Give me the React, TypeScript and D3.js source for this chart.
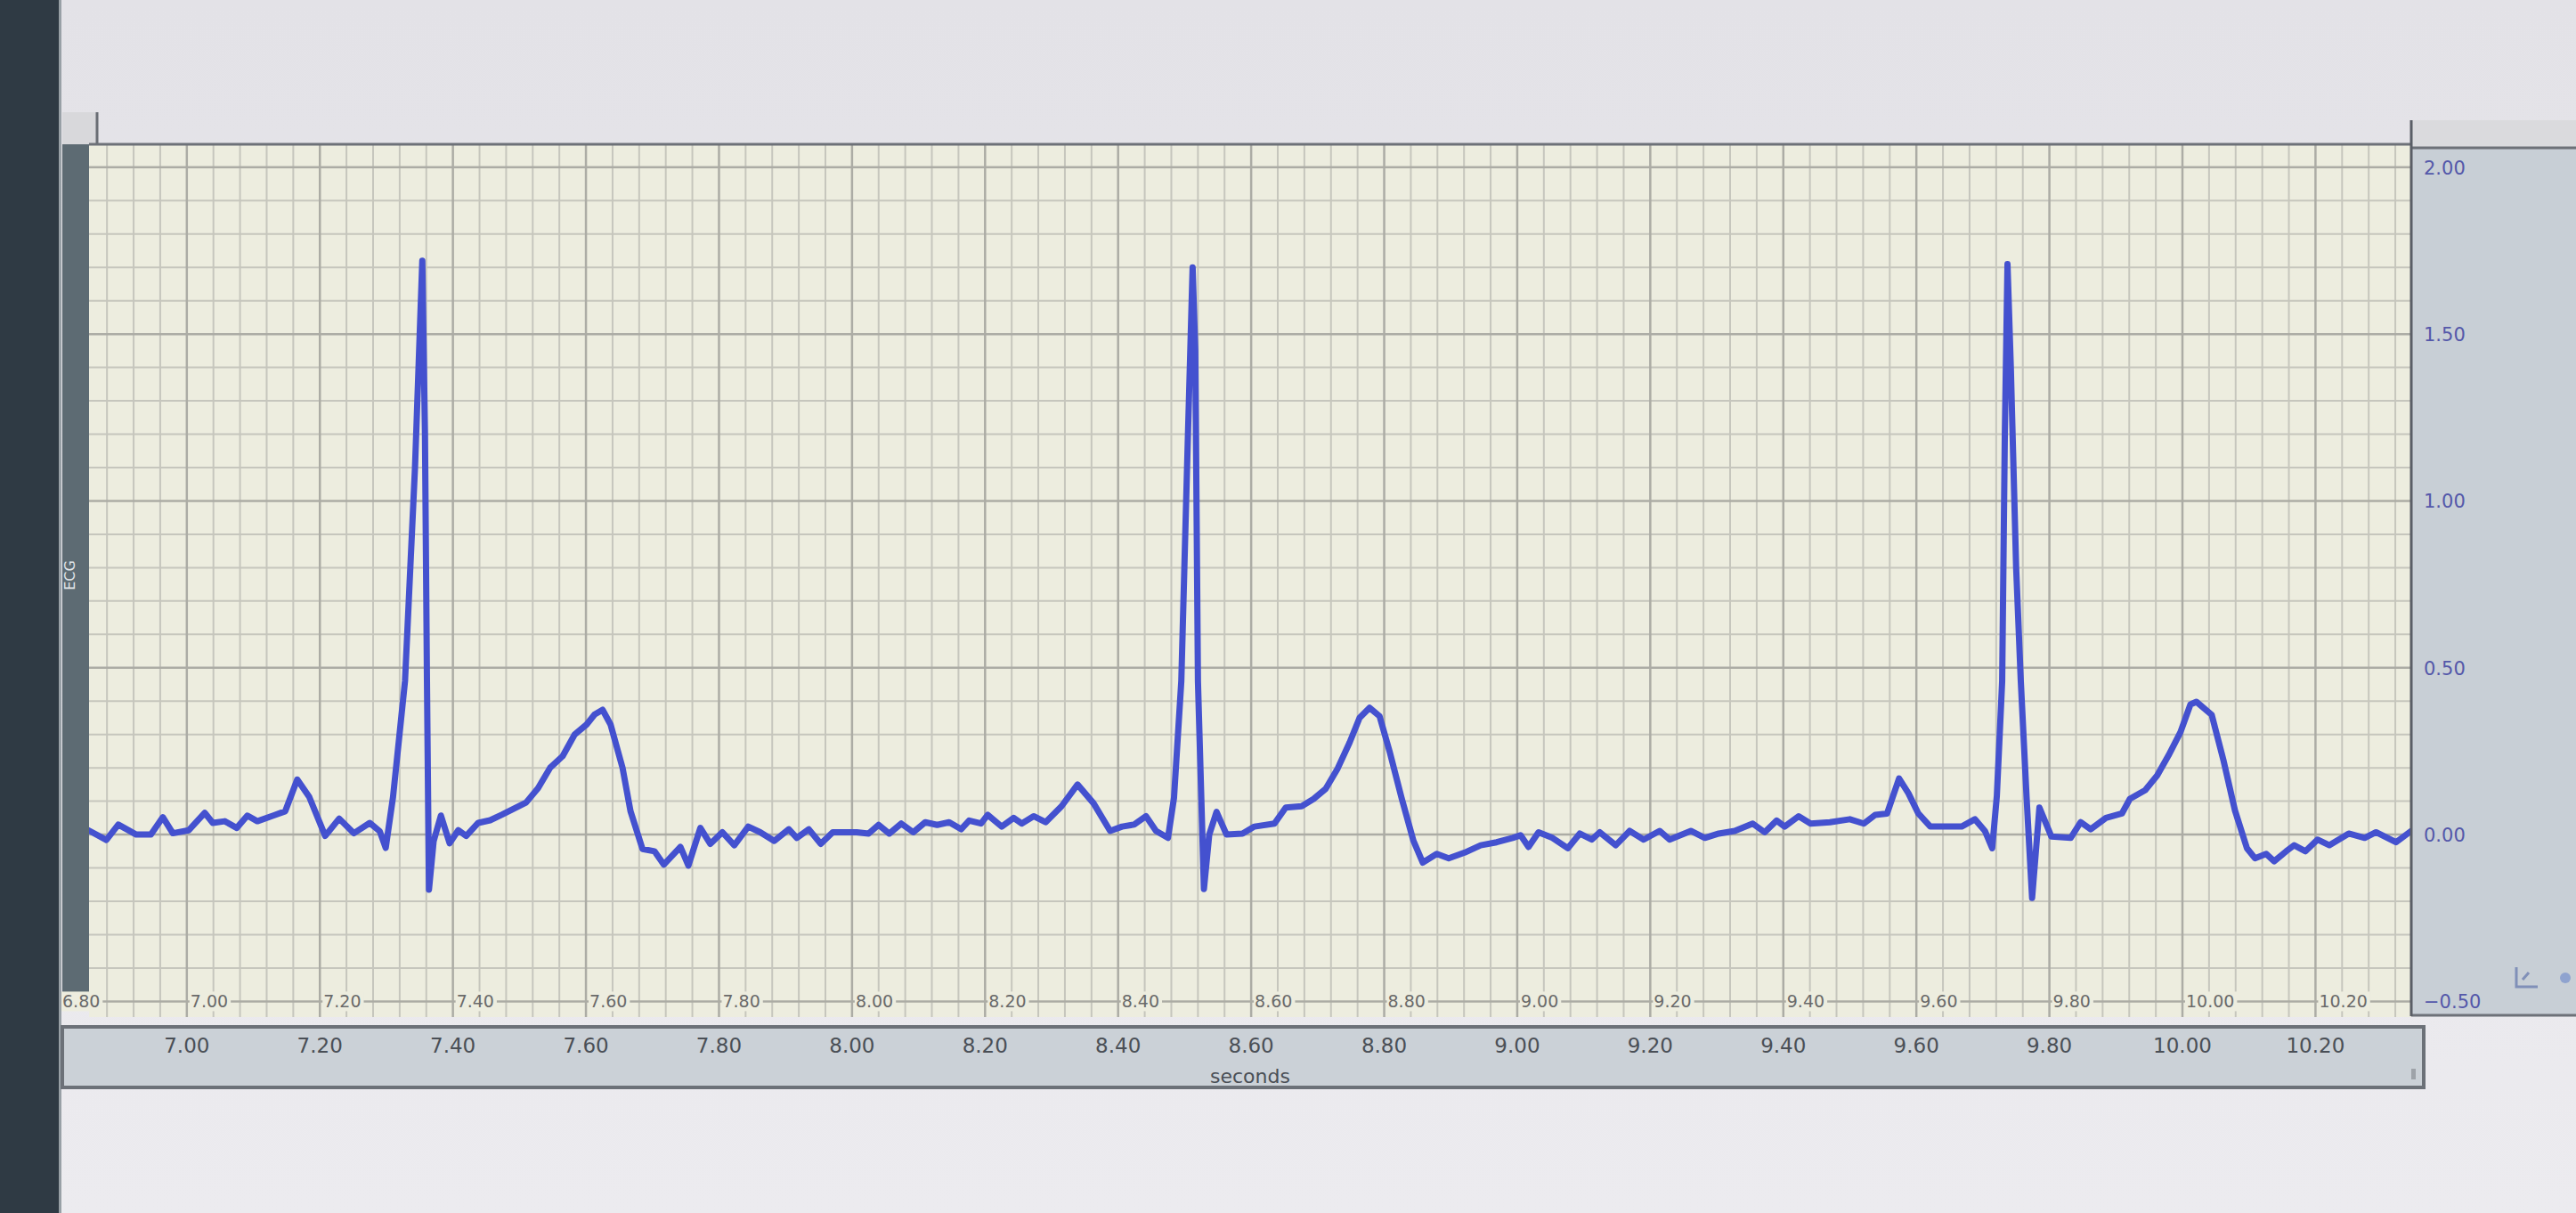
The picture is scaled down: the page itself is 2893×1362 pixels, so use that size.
import React from "react";
import * as d3 from "d3";

// ECG trace (seconds, mV)
const ecgTime = [
  6.816, 6.852, 6.879, 6.897, 6.924, 6.946, 6.964, 6.979, 7.003, 7.027, 7.039, 7.057, 7.075, 7.091, 7.106, 7.13, 7.148,
  7.166, 7.184, 7.208, 7.229, 7.251, 7.275, 7.29, 7.299, 7.31, 7.328, 7.343, 7.354, 7.358, 7.361, 7.364, 7.371, 7.382,
  7.395, 7.408, 7.42, 7.438, 7.456, 7.474, 7.492, 7.51, 7.528, 7.546, 7.565, 7.583, 7.601, 7.613, 7.625, 7.637, 7.655,
  7.667, 7.685, 7.703, 7.717, 7.742, 7.754, 7.772, 7.787, 7.805, 7.823, 7.844, 7.862, 7.883, 7.905, 7.917, 7.935, 7.953,
  7.971, 8.007, 8.025, 8.04, 8.056, 8.074, 8.092, 8.11, 8.128, 8.146, 8.164, 8.176, 8.194, 8.204, 8.225, 8.243, 8.255,
  8.273, 8.291, 8.315, 8.339, 8.363, 8.388, 8.406, 8.424, 8.442, 8.457, 8.475, 8.484, 8.495, 8.505, 8.512, 8.516, 8.52,
  8.529, 8.537, 8.548, 8.563, 8.587, 8.605, 8.635, 8.652, 8.676, 8.694, 8.712, 8.73, 8.748, 8.763, 8.778, 8.793, 8.808,
  8.826, 8.844, 8.858, 8.879, 8.897, 8.921, 8.945, 8.969, 8.993, 9.005, 9.017, 9.032, 9.053, 9.076, 9.094, 9.112, 9.124,
  9.148, 9.169, 9.19, 9.214, 9.229, 9.261, 9.282, 9.303, 9.327, 9.354, 9.372, 9.39, 9.402, 9.423, 9.441, 9.47, 9.5,
  9.521, 9.538, 9.556, 9.574, 9.588, 9.603, 9.621, 9.644, 9.668, 9.688, 9.703, 9.714, 9.721, 9.729, 9.733, 9.737, 9.742,
  9.75, 9.757, 9.766, 9.774, 9.785, 9.803, 9.832, 9.847, 9.862, 9.885, 9.909, 9.921, 9.944, 9.962, 9.979, 9.997, 10.012,
  10.021, 10.044, 10.062, 10.079, 10.097, 10.109, 10.126, 10.138, 10.156, 10.168, 10.185, 10.203, 10.221, 10.25, 10.274,
  10.291, 10.321, 10.344, 10.368,
];
const ecgMv = [
  0.01, 0.013, -0.016, 0.03, 0.0, 0.0, 0.052, 0.004, 0.013, 0.065, 0.035, 0.04, 0.02, 0.057, 0.04, 0.057, 0.07,
  0.165, 0.113, -0.004, 0.048, 0.004, 0.035, 0.01, -0.04, 0.113, 0.46, 1.1, 1.72, 1.2, 0.46, -0.165, -0.02, 0.057,
  -0.026, 0.013, -0.004, 0.035, 0.043, 0.06, 0.078, 0.096, 0.139, 0.2, 0.235, 0.3, 0.33, 0.36, 0.374, 0.33, 0.2,
  0.07, -0.043, -0.05, -0.09, -0.037, -0.093, 0.02, -0.028, 0.007, -0.032, 0.024, 0.007, -0.019, 0.016, -0.01, 0.016, -0.028,
  0.007, 0.007, 0.003, 0.029, 0.003, 0.033, 0.007, 0.037, 0.029, 0.037, 0.016, 0.042, 0.033, 0.059, 0.024, 0.05, 0.033,
  0.055, 0.037, 0.085, 0.15, 0.094, 0.011, 0.024, 0.03, 0.055, 0.011, -0.01, 0.11, 0.46, 1.2, 1.7, 1.45, 0.46,
  -0.163, 0.0, 0.068, 0.0, 0.003, 0.024, 0.033, 0.081, 0.085, 0.107, 0.137, 0.198, 0.276, 0.35, 0.38, 0.355, 0.25,
  0.111, -0.019, -0.084, -0.058, -0.071, -0.054, -0.032, -0.023, -0.01, -0.002, -0.037, 0.007, -0.01, -0.041, 0.003, -0.015, 0.007,
  -0.032, 0.011, -0.015, 0.011, -0.015, 0.011, -0.01, 0.003, 0.011, 0.033, 0.007, 0.042, 0.024, 0.055, 0.033, 0.037, 0.046,
  0.033, 0.059, 0.063, 0.168, 0.124, 0.063, 0.024, 0.024, 0.024, 0.046, 0.011, -0.041, 0.116, 0.46, 1.2, 1.71, 1.4,
  0.8, 0.46, 0.1, -0.19, 0.081, -0.006, -0.01, 0.037, 0.016, 0.05, 0.063, 0.107, 0.133, 0.177, 0.237, 0.307, 0.39,
  0.398, 0.359, 0.22, 0.072, -0.041, -0.071, -0.058, -0.08, -0.05, -0.032, -0.05, -0.015, -0.032, 0.003, -0.01,
  0.007, -0.023, 0.011, 0.003,
];

// axes
const xTicks = [7.0, 7.2, 7.4, 7.6, 7.8, 8.0, 8.2, 8.4, 8.6, 8.8, 9.0, 9.2, 9.4, 9.6, 9.8, 10.0, 10.2];
const stripTicks = [6.8, 7.0, 7.2, 7.4, 7.6, 7.8, 8.0, 8.2, 8.4, 8.6, 8.8, 9.0, 9.2, 9.4, 9.6, 9.8, 10.0, 10.2];
const yTicks = [2.0, 1.5, 1.0, 0.5, 0.0, -0.5];
const xDomain = [6.853, 10.344];
const yDomain = [-0.547, 2.069];
const channelLabel = "ECG";
const xAxisTitle = "seconds";

const W = 2893;
const H = 1362;
const P = { left: 100, right: 2708, top: 162, bottom: 1142 };
const FONT = "'DejaVu Sans', Verdana, sans-serif";

export default function App() {
  const x = d3.scaleLinear().domain(xDomain).range([P.left, P.right]);
  const y = d3.scaleLinear().domain(yDomain).range([P.bottom, P.top]);
  const fmt = d3.format(".2f");

  const pts: [number, number][] = ecgTime.map((t, i) => [t, ecgMv[i]]);
  const line = d3
    .line<[number, number]>()
    .x((d) => x(d[0]))
    .y((d) => y(d[1]));

  const vGrid = d3.range(172, 259).map((k) => ({ v: k * 0.04, major: k % 5 === 0 }));
  const hGrid = d3.range(-5, 21).map((k) => ({ v: k / 10, major: k % 5 === 0 }));

  const stripSize = 19;
  const labelW = (s: string) => (s.replace(".", "").length * 0.636 + 0.318) * stripSize;

  return (
    <div style={{ position: "absolute", left: 0, top: 0, width: W, height: H, overflow: "hidden" }}>
      <svg width={W} height={H} style={{ display: "block" }} fontFamily={FONT}>
        <defs>
          <linearGradient id="pagebg" x1="0" y1="0" x2="0" y2="1">
            <stop offset="0" stopColor="#e3e2e7" />
            <stop offset="1" stopColor="#ecebef" />
          </linearGradient>
          <clipPath id="plotclip">
            <rect x={P.left} y={P.top} width={P.right - P.left} height={P.bottom - P.top} />
          </clipPath>
        </defs>
        <rect x={0} y={0} width={W} height={H} fill="url(#pagebg)" />

        {/* left dark strip */}
        <rect x={0} y={0} width={66} height={H} fill="#2f3a44" />
        <rect x={66} y={0} width={3} height={H} fill="#98a0a6" />

        {/* top-left header */}
        <rect x={70} y={126} width={38} height={36} fill="#d8d8db" />
        <line x1={109} y1={126} x2={109} y2={162} stroke="#6a6e75" strokeWidth={3} />

        {/* channel panel */}
        <rect x={70} y={P.top} width={P.left - 70} height={P.bottom - P.top - 10} fill="#5d6b73" />
        <text
          transform={`translate(${84},${646}) rotate(-90)`}
          textAnchor="middle"
          fontSize={16}
          fill="#e2e6e9"
        >
          {channelLabel}
        </text>

        {/* plot background */}
        <rect x={P.left} y={P.top} width={P.right - P.left} height={P.bottom - P.top} fill="#ededdf" />

        {/* minor grid */}
        <g>
          {vGrid
            .filter((g) => !g.major)
            .map((g, i) => (
              <line key={"vm" + i} x1={x(g.v)} x2={x(g.v)} y1={P.top} y2={P.bottom} stroke="#c6c6bd" strokeWidth={2} />
            ))}
          {hGrid
            .filter((g) => !g.major)
            .map((g, i) => (
              <line key={"hm" + i} x1={P.left} x2={P.right} y1={y(g.v)} y2={y(g.v)} stroke="#c6c6bd" strokeWidth={2} />
            ))}
        </g>
        {/* major grid */}
        <g>
          {vGrid
            .filter((g) => g.major)
            .map((g, i) => (
              <line key={"vM" + i} x1={x(g.v)} x2={x(g.v)} y1={P.top} y2={P.bottom} stroke="#acaca5" strokeWidth={2.5} />
            ))}
          {hGrid
            .filter((g) => g.major)
            .map((g, i) => (
              <line key={"hM" + i} x1={P.left} x2={P.right} y1={y(g.v)} y2={y(g.v)} stroke="#acaca5" strokeWidth={2.5} />
            ))}
        </g>

        {/* in-plot time strip labels on the -0.50 line */}
        <g>
          {stripTicks.map((t) => {
            const s = fmt(t);
            const lx = Math.max(x(t) + 4, 70);
            return (
              <g key={"st" + s}>
                <rect x={lx - 1} y={y(-0.5) - 11} width={labelW(s) + 4} height={22} fill="#ededdf" />
                <text x={lx} y={y(-0.5) + 7} fontSize={stripSize} fill="#6a6a6a">
                  {s}
                </text>
              </g>
            );
          })}
        </g>

        {/* ECG trace */}
        <path
          d={line(pts) || ""}
          fill="none"
          stroke="#4451cf"
          strokeWidth={7}
          strokeLinejoin="round"
          strokeLinecap="round"
          clipPath="url(#plotclip)"
        />

        {/* plot top border */}
        <line x1={P.left} x2={P.right} y1={P.top} y2={P.top} stroke="#6d7178" strokeWidth={3} />

        {/* right axis panel */}
        <rect x={P.right} y={135} width={W - P.right} height={31} fill="#dadadd" />
        <rect x={P.right} y={166} width={W - P.right} height={974} fill="#c8cfd6" />
        <line x1={P.right} x2={W} y1={166} y2={166} stroke="#6d7178" strokeWidth={3} />
        <line x1={P.right} x2={W} y1={1140} y2={1140} stroke="#6d7178" strokeWidth={3} />
        <line x1={P.right} x2={P.right} y1={135} y2={1141} stroke="#5a5e66" strokeWidth={3} />
        {yTicks.map((v) => (
          <text key={"yt" + v} x={P.right + 14} y={y(v) + 8} fontSize={21} fill="#5458aa">
            {fmt(v)}
          </text>
        ))}

        {/* small chart icon */}
        <path d="M2826 1086 v22 h24 M2833 1100 l7 -8" fill="none" stroke="#8090b8" strokeWidth={3} />
        <circle cx={2881} cy={1098} r={6} fill="#8fa3cf" />

        {/* bottom time axis panel */}
        <rect x={70} y={1153} width={2652} height={68} fill="#cbd1d7" stroke="#6c7178" strokeWidth={4} />
        {xTicks.map((t) => (
          <text key={"xt" + t} x={x(t)} y={1182} fontSize={23} textAnchor="middle" fill="#4a4f56">
            {fmt(t)}
          </text>
        ))}
        <text x={1404} y={1216} fontSize={22} textAnchor="middle" fill="#4a4f56">
          {xAxisTitle}
        </text>
        <rect x={2708} y={1200} width={5} height={12} fill="#9ea3a9" />
      </svg>
    </div>
  );
}
